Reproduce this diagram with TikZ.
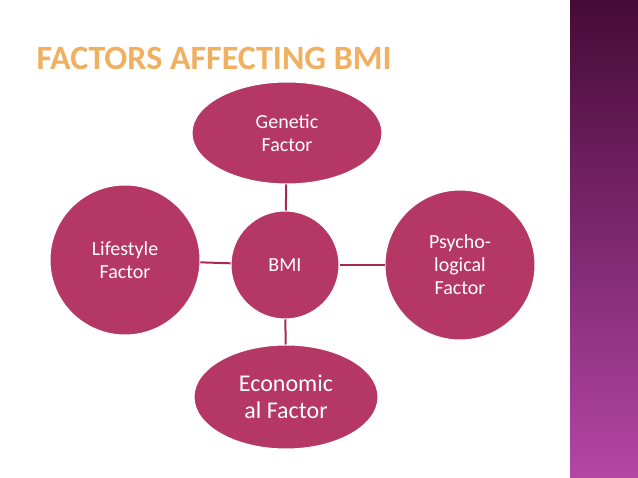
\documentclass[tikz,border=0pt]{standalone}
\usepackage{fontspec}
\setmainfont{Carlito}
\usetikzlibrary{shapes.geometric}
\definecolor{node}{RGB}{181,55,100}
\definecolor{edge}{RGB}{170,40,85}
\definecolor{title}{RGB}{240,176,96}
\begin{document}
\begin{tikzpicture}[x=1pt,y=-1pt,
  blob/.style={fill=node,draw=white,line width=1pt,text=white,font=\fontsize{20}{23}\selectfont,align=center,inner sep=0pt},
  link/.style={draw=edge,line width=2pt}]
\useasboundingbox (0,0) rectangle (638,478);
\fill[white] (0,0) rectangle (638,478);
\shade[top color={rgb,255:red,70;green,10;blue,55},bottom color={rgb,255:red,180;green,70;blue,165}] (570,0) rectangle (638,478);
\node[anchor=base west,text=title,font=\bfseries\fontsize{34}{34}\selectfont] (t) at (33,70) {FACTORS AFFECTING BMI};
\node[blob,ellipse,minimum width=190,minimum height=102] (g) at (287,133) {Genetic\\Factor};
\node[blob,circle,minimum size=150] (l) at (125,260) {Lifestyle\\Factor};
\node[blob,circle,minimum size=108] (b) at (285,265) {BMI};
\node[blob,circle,minimum size=150] (p) at (460,265) {Psycho-\\logical\\Factor};
\node[blob,ellipse,minimum width=184,minimum height=104,font=\fontsize{24}{27}\selectfont] (e) at (286,397) {Economic\\al Factor};
\draw[link] (b) -- (g);
\draw[link] (b) -- (l);
\draw[link] (b) -- (p);
\draw[link] (b) -- (e);
\end{tikzpicture}
\end{document}
